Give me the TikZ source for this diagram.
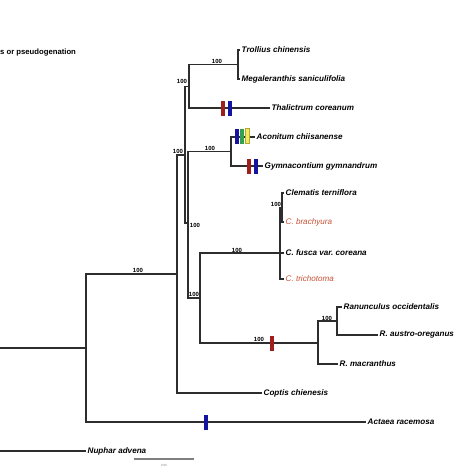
\documentclass[tikz,border=0pt]{standalone}
\usepackage{fontspec}
\setmainfont{Liberation Sans}
\usetikzlibrary{positioning}
\frenchspacing

\definecolor{treegray}{RGB}{45,45,45}
\definecolor{taxred}{RGB}{198,80,52}
\definecolor{evred}{RGB}{160,30,30}
\definecolor{evblue}{RGB}{20,20,160}
\definecolor{evgreen}{RGB}{50,160,80}
\definecolor{evyellow}{RGB}{240,235,90}

\tikzset{
    branch/.style={draw=treegray, line width=1.1pt},
    taxon/.style={anchor=west, inner sep=1.5pt,
        font=\fontsize{8.1}{9}\selectfont\bfseries\itshape},
    redtaxon/.style={taxon, text=taxred,
        font=\fontsize{8.1}{9}\selectfont\itshape},
    boot/.style={inner sep=0pt, font=\fontsize{6}{6}\selectfont\bfseries},
    event/.style={rectangle, inner sep=0pt, minimum width=4pt,
        minimum height=15pt, fill=#1},
}

\begin{document}
\begin{tikzpicture}[x=1pt, y=-1pt]
    \useasboundingbox (0,0) rectangle (474,474);

    % internal nodes
    \coordinate (root) at (-6,399.5);
    \coordinate (nO) at (86,348);
    \coordinate (nA) at (177,274);
    \coordinate (nB) at (185,155);
    \coordinate (nC) at (189,86.5);
    \coordinate (nT) at (238,64.5);
    \coordinate (nD) at (188,223);
    \coordinate (nAc) at (231,151.5);
    \coordinate (nE) at (200,298);
    \coordinate (nCl) at (280,253);
    \coordinate (nCb) at (282,207.5);
    \coordinate (nRa) at (318,343);
    \coordinate (nRo) at (337,321);

    % tips
    \node[taxon] (trollius) at (240,50) {Trollius chinensis};
    \node[taxon] (megal) at (240,79) {Megaleranthis saniculifolia};
    \node[taxon] (thalic) at (270,108) {Thalictrum coreanum};
    \node[taxon] (aconit) at (255,137) {Aconitum chiisanense};
    \node[taxon] (gymna) at (263,166) {Gymnacontium gymnandrum};
    \node[taxon] (clemat) at (284,193) {Clematis terniflora};
    \node[redtaxon] (brachy) at (284,222) {C. brachyura};
    \node[taxon] (fusca) at (284,253) {C. fusca var. coreana};
    \node[redtaxon] (tricho) at (284,279) {C. trichotoma};
    \node[taxon] (ranocc) at (342,307) {Ranunculus occidentalis};
    \node[taxon] (ranaus) at (378,335) {R. austro-oreganus};
    \node[taxon] (ranmac) at (338,364) {R. macranthus};
    \node[taxon] (coptis) at (262,393) {Coptis chienesis};
    \node[taxon] (actaea) at (366,422) {Actaea racemosa};
    \node[taxon] (nuphar) at (86,451) {Nuphar advena};

    % branches
    \draw[branch] (root) |- (nO);
    \draw[branch] (root) |- (nuphar.west);
    \draw[branch] (nO) |- (nA);
    \draw[branch] (nO) |- (actaea.west);
    \draw[branch] (nA) |- (nB);
    \draw[branch] (nA) |- (coptis.west);
    \draw[branch] (nB) |- (nC);
    \draw[branch] (nB) |- (nD);
    \draw[branch] (nC) |- (nT);
    \draw[branch] (nC) |- (thalic.west);
    \draw[branch] (nT) |- (trollius.west);
    \draw[branch] (nT) |- (megal.west);
    \draw[branch] (nD) |- (nAc);
    \draw[branch] (nD) |- (nE);
    \draw[branch] (nAc) |- (aconit.west);
    \draw[branch] (nAc) |- (gymna.west);
    \draw[branch] (nE) |- (nCl);
    \draw[branch] (nE) |- (nRa);
    \draw[branch] (nCl) |- (nCb);
    \draw[branch] (nCl) |- (fusca.west);
    \draw[branch] (nCl) |- (tricho.west);
    \draw[branch] (nCb) |- (clemat.west);
    \draw[branch] (nCb) |- (brachy.west);
    \draw[branch] (nRa) |- (nRo);
    \draw[branch] (nRa) |- (ranmac.west);
    \draw[branch] (nRo) |- (ranocc.west);
    \draw[branch] (nRo) |- (ranaus.west);

    % bootstrap support
    \node[boot] (bsT) at (217,61) {100};
    \node[boot] (bsC) at (182,81) {100};
    \node[boot] (bsB) at (178,151) {100};
    \node[boot] (bsAc) at (210,148) {100};
    \node[boot] (bsD) at (195,225) {100};
    \node[boot] (bsE) at (194,294) {100};
    \node[boot] (bsCl) at (237,250) {100};
    \node[boot] (bsCb) at (276,204) {100};
    \node[boot] (bsRa) at (259,339) {100};
    \node[boot] (bsRo) at (327,318) {100};
    \node[boot] (bsA) at (138,270) {100};

    % gene loss marks
    \node[event=evred] (thR) at (223,108) {};
    \node[event=evblue] (thB) at (230,108) {};
    \node[event=evblue] (acB) at (237,136) {};
    \node[event=evgreen] (acG) at (242,136) {};
    \node[event=evyellow, draw=olive!70, line width=0.4pt] (acY) at (247,136) {};
    \node[event=evred] (gyR) at (249,166) {};
    \node[event=evblue] (gyB) at (256,166) {};
    \node[event=evred] (raR) at (272,343) {};
    \node[event=evblue] (atB) at (206,422) {};

    % legend remnant and scale
    \node[anchor=west, inner sep=0pt, font=\fontsize{7.7}{9}\selectfont\bfseries]
        (legend) at (0,53) {s or pseudogenation};
    \coordinate (sbL) at (134,459);
    \coordinate (sbR) at (194,459);
    \draw[draw=gray, line width=1.2pt] (sbL) -- (sbR);
    \node[inner sep=0pt, text=gray, font=\fontsize{3}{3}\selectfont]
        (sblabel) at (164,465) {0.05};
\end{tikzpicture}
\end{document}
